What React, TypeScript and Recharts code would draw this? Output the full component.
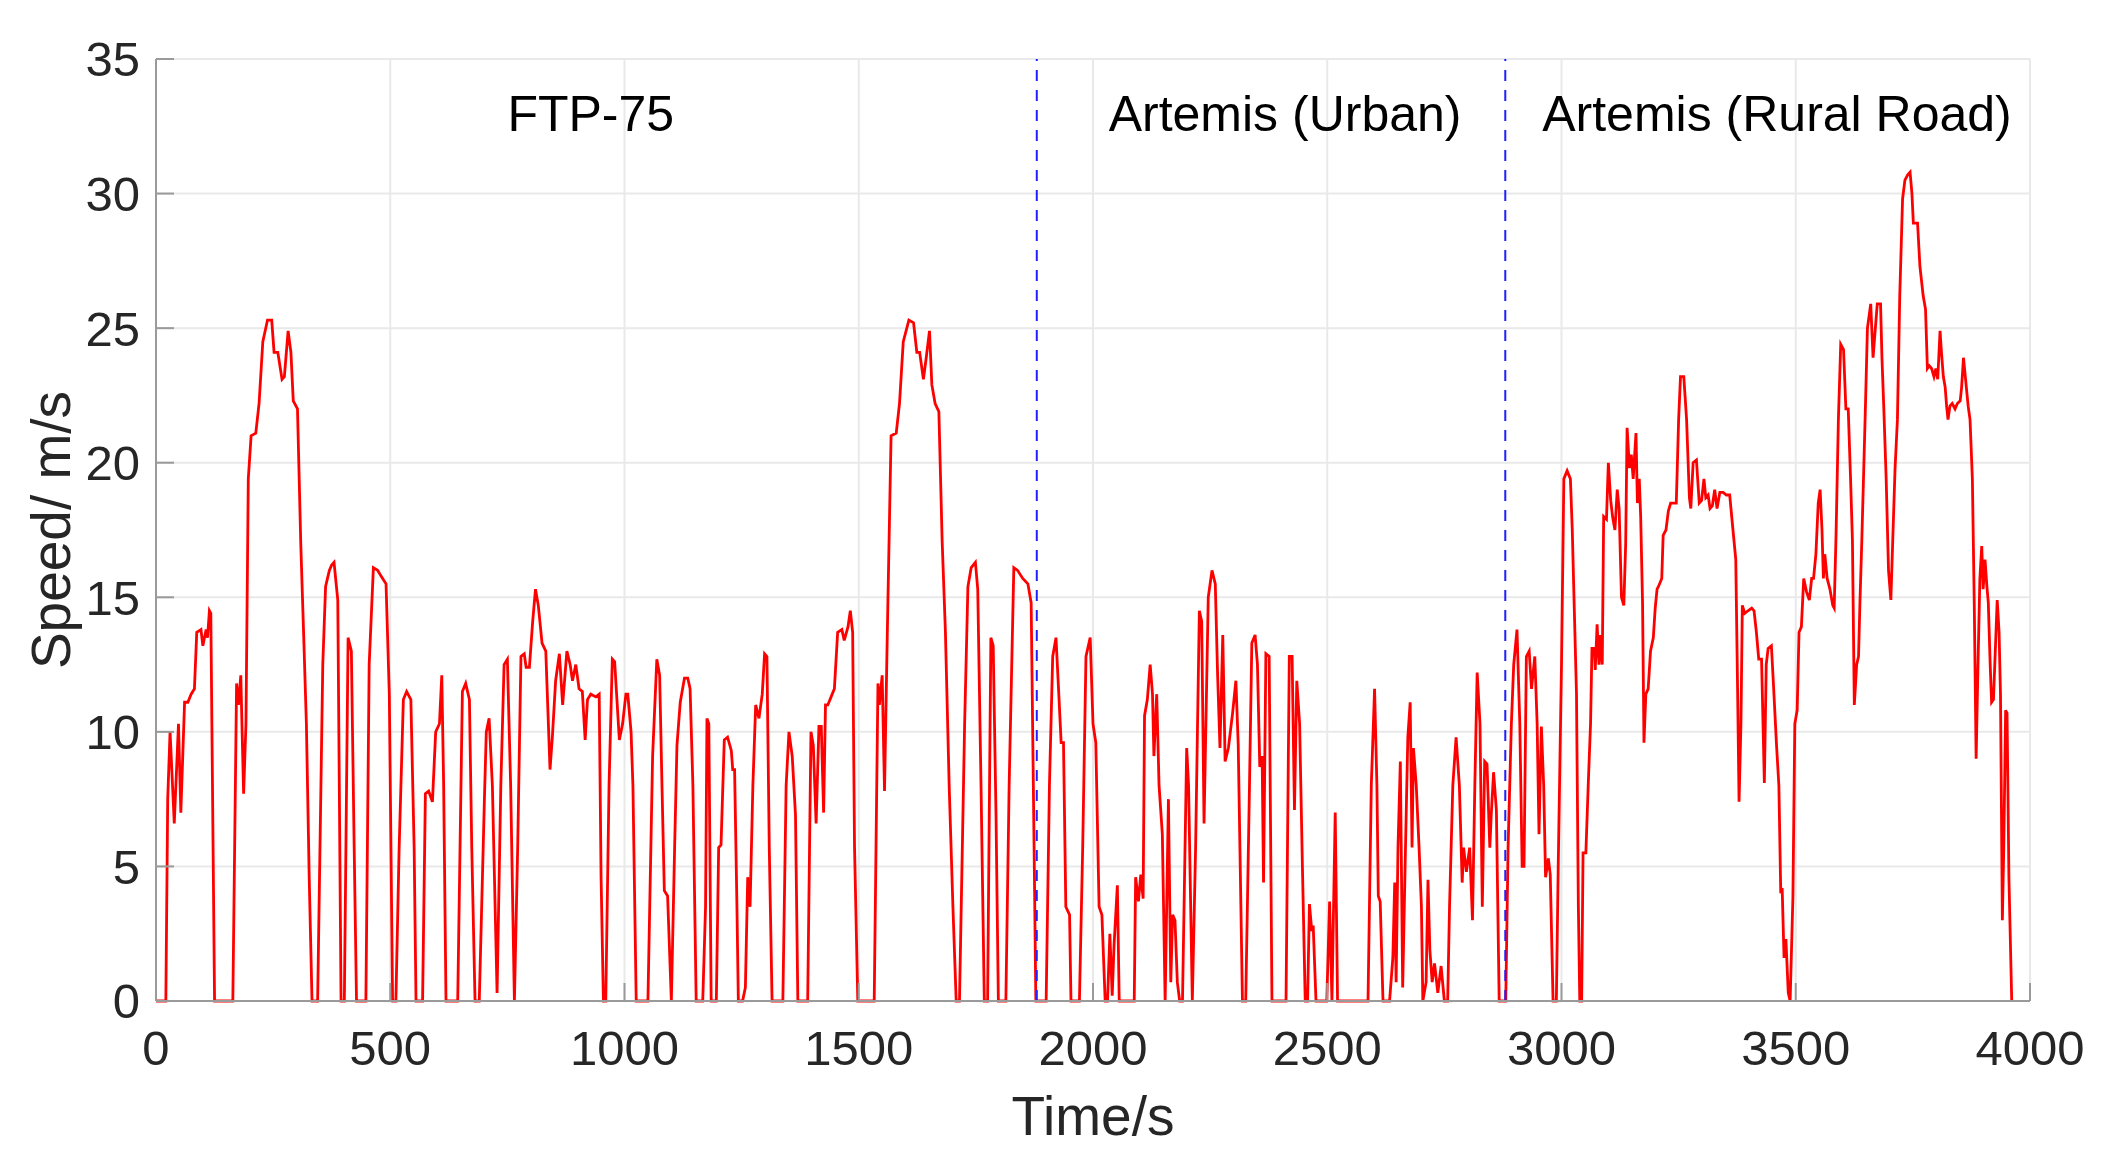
import React from 'react';
import { LineChart, Line, XAxis, YAxis, CartesianGrid, ReferenceLine, ReferenceDot, Label } from 'recharts';

// speed profile, [time s, speed m/s]
const ftp75: [number, number][] = [
  [0,0],[21,0],[25,7.5],[30,10],[39,6.6],[48,10.3],[53,7],[61,11.1],[68,11.1],[75,11.4],[82,11.6],[87,13.7],[96,13.8],[100,13.2],[107,13.8],[110,13.5],[114,14.5],[117,14.4],[125,0],[164,0],[172,11.8],[176,11],[181,12.1],[187,7.7],[192,10.3],[197,19.4],[203,21],[213,21.1],[220,22.2],[228,24.5],[238,25.3],[247,25.3],[252,24.1],[260,24.1],[269,23.1],[274,23.2],[282,24.9],[288,24.1],[293,22.3],[302,22],[309,17],[315,13.7],[321,10.3],[327,4.6],[333,0],[345,0],[356,12.5],[362,15.4],[370,16],[375,16.2],[380,16.3],[388,14.9],[395,0],[402,0],[410,13.5],[417,13],[423,5.7],[428,0],[448,0],[455,12.5],[464,16.1],[473,16],[480,15.8],[491,15.5],[498,11.4],[505,0],[512,0],[519,5.7],[528,11.2],[535,11.5],[544,11.2],[551,5.7],[555,0],[569,0],[575,7.7],[582,7.8],[590,7.4],[597,10],[605,10.3],[610,12.1],[614,8],[619,0],[644,0],[654,11.5],[661,11.8],[669,11.2],[674,5.7],[681,0],[690,0],[701,7.5],[705,10],[711,10.5],[718,8],[728,0.3],[736,8],[743,12.5],[750,12.7],[757,8],[765,0],[772,5.7],[779,12.8],[786,12.9],[790,12.4],[797,12.4],[804,14.1],[810,15.3],[816,14.7],[824,13.3],[832,13],[841,8.6],[846,9.8],[853,11.9],[861,12.9],[868,11],[877,13],[884,12.5],[889,11.9],[896,12.5],[903,11.6],[910,11.5],[916,9.7],[921,11.2],[928,11.4],[939,11.3],[946,11.4],[950,4.6],[955,0],[960,0],[967,8],[974,12.7],[979,12.6],[989,9.7],[996,10.3],[1003,11.4],[1007,11.4],[1014,10],[1018,8],[1025,0],[1050,0],[1060,9.1],[1069,12.7],[1075,12.1],[1080,8],[1085,4.1],[1092,3.9],[1100,0],[1107,5.7],[1112,9.5],[1119,11.1],[1128,12],[1135,12],[1140,11.6],[1146,8],[1153,0],[1167,0],[1173,3.5],[1176,10.5],[1180,10.3],[1185,0],[1196,0],[1201,5.7],[1206,5.8],[1213,9.7],[1220,9.8],[1228,9.3],[1231,8.6],[1235,8.6],[1240,3.5],[1243,0],[1252,0],[1258,0.5],[1263,4.6],[1268,3.5],[1274,8],[1280,11],[1287,10.5],[1294,11.4],[1299,12.9],[1304,12.8],[1309,5.7],[1315,0],[1338,0],[1345,8],[1351,10],[1358,9.1],[1365,6.9],[1370,0],[1391,0],[1398,10],[1403,9.5],[1409,6.6],[1415,10.2],[1420,10.2],[1425,7],[1429,11],[1434,11],[1441,11.3],[1448,11.6],[1455,13.7],[1464,13.8],[1469,13.4],[1477,13.9],[1482,14.5],[1487,13.7],[1491,5.7],[1498,0],[1533,0],[1541,11.8],[1544,11],[1550,12.1],[1555,7.8],[1561,13.7],[1569,21],[1580,21.1],[1587,22.2],[1595,24.5],[1607,25.3],[1617,25.2],[1624,24.1],[1630,24.1],[1638,23.1],[1644,23.9],[1651,24.9],[1656,22.9],[1663,22.2],[1671,21.9],[1678,17.1],[1685,13.7],[1693,8],[1701,3.5],[1708,0],[1715,0],[1726,10.3],[1733,15.4],[1740,16.1],[1749,16.3],[1754,15.3],[1761,8],[1768,0],[1775,0],[1782,13.5],[1787,13.2],[1793,6.9],[1798,0],[1814,0],[1821,8],[1831,16.1],[1839,16],[1850,15.7],[1861,15.5],[1868,14.8],[1875,4.6],[1878,0],
];

const artemisUrban: [number, number][] = [
  [1900,0],[1907,8],[1914,12.8],[1921,13.5],[1927,11.4],[1932,9.6],[1937,9.6],[1942,3.5],[1950,3.2],[1953,0],[1971,0],[1978,5.7],[1985,12.8],[1994,13.5],[2000,10.3],[2006,9.6],[2013,3.5],[2019,3.2],[2026,0],[2031,0],[2036,2.5],[2041,0.2],[2045,2.1],[2052,4.3],[2056,0],[2088,0],[2091,4.6],[2097,3.7],[2102,4.7],[2107,3.8],[2110,10.6],[2116,11.2],[2122,12.5],[2127,11.4],[2130,9.1],[2136,11.4],[2141,8],[2148,6.2],[2154,0],[2161,7.5],[2166,0.7],[2170,3.2],[2175,3],[2180,0.7],[2185,0],[2191,0],[2200,9.4],[2204,8],[2212,0],[2219,5.7],[2227,14.5],[2232,14.1],[2237,6.6],[2241,10.3],[2246,15],[2254,16],[2261,15.5],[2266,12.1],[2271,9.4],[2277,13.6],[2282,8.9],[2289,9.4],[2298,10.7],[2305,11.9],[2310,9.5],[2319,0],[2326,0],[2334,8],[2339,13.3],[2346,13.6],[2351,12.5],[2356,8.7],[2361,9.1],[2364,4.4],[2369,12.9],[2376,12.8],[2382,0],[2412,0],[2419,12.8],[2425,12.8],[2430,7.1],[2435,11.9],[2441,10.3],[2447,5],[2453,0],[2458,0],[2462,3.6],[2467,2.6],[2470,2.8],[2476,0],[2499,0],[2505,3.7],[2510,0],[2517,7],[2522,0],[2587,0],[2594,8],[2601,11.6],[2606,8],[2609,3.9],[2613,3.7],[2619,0],[2633,0],[2640,1.6],[2644,4.4],[2647,0.7],[2651,5.7],[2656,8.9],[2661,0.5],[2667,5.7],[2672,9.8],[2677,11.1],[2681,5.7],[2684,9.4],[2690,8],[2696,5.7],[2701,3.5],[2704,0],[2711,0.7],[2715,4.5],[2719,1.9],[2724,0.7],[2729,1.4],[2736,0.3],[2743,1.3],[2750,0],[2757,0],[2761,3.5],[2768,8],[2775,9.8],[2782,8],[2788,4.4],[2791,5.7],[2797,4.8],[2804,5.7],[2810,3],[2815,8],[2820,12.2],[2826,10.3],[2831,3.5],[2836,8.9],[2841,8.8],[2847,5.7],[2850,6.9],[2855,8.5],[2861,7.1],[2867,0],[2881,0],
];

const artemisRural: [number, number][] = [
  [2886,5.7],[2893,10.3],[2898,12.5],[2905,13.8],[2911,10.3],[2916,5],[2920,5],[2925,12.8],[2931,13],[2936,11.6],[2943,12.8],[2948,10.3],[2952,6.2],[2957,10.2],[2962,8],[2966,4.6],[2972,5.3],[2976,4.7],[2982,0],[2989,0],[2993,5],[3000,12.5],[3005,19.4],[3012,19.7],[3019,19.4],[3023,17.5],[3028,14.1],[3032,11.4],[3036,3.5],[3039,0],[3043,0],[3046,5.5],[3052,5.5],[3057,8],[3062,10.3],[3065,13.1],[3070,13.1],[3072,12.3],[3076,14],[3080,12.5],[3083,13.6],[3087,12.5],[3090,18],[3096,17.9],[3100,20],[3105,18.6],[3109,18],[3114,17.5],[3119,19],[3123,18.3],[3128,15],[3133,14.7],[3137,17],[3140,21.3],[3145,19.8],[3149,20.3],[3153,19.4],[3159,21.1],[3162,18.5],[3166,19.4],[3169,18],[3173,14.8],[3176,9.6],[3180,11.4],[3185,11.6],[3190,13],[3196,13.5],[3200,14.6],[3204,15.3],[3207,15.4],[3214,15.7],[3217,17.3],[3223,17.5],[3228,18.2],[3233,18.5],[3245,18.5],[3250,21.6],[3254,23.2],[3261,23.2],[3267,21.6],[3273,18.7],[3276,18.3],[3281,20],[3288,20.1],[3294,18.5],[3299,18.6],[3304,19.4],[3308,18.7],[3313,18.8],[3317,18.3],[3322,18.4],[3327,19],[3332,18.3],[3338,18.9],[3345,18.9],[3352,18.8],[3359,18.8],[3366,17.5],[3372,16.4],[3376,11.4],[3379,7.4],[3383,10.3],[3386,14.7],[3391,14.4],[3398,14.5],[3406,14.6],[3411,14.5],[3416,13.7],[3421,12.7],[3427,12.7],[3433,8.1],[3437,12.5],[3441,13.1],[3448,13.2],[3452,11.9],[3459,9.5],[3464,8],[3468,4],[3471,4.2],[3475,1.6],[3479,2.3],[3484,0.3],[3488,0],[3494,3.9],[3498,10.3],[3503,10.8],[3507,13.7],[3512,13.9],[3517,15.7],[3523,15.2],[3529,14.9],[3534,15.7],[3538,15.7],[3543,16.6],[3548,18.5],[3552,19],[3556,17.5],[3559,15.7],[3562,16.6],[3567,15.7],[3573,15.3],[3579,14.7],[3582,14.6],[3586,17.3],[3591,21.6],[3596,24.4],[3602,24.2],[3607,22],[3612,22],[3617,19.4],[3621,17.1],[3625,11],[3630,12.5],[3634,12.8],[3637,14.8],[3641,17.1],[3648,21.6],[3653,25],[3660,25.9],[3665,23.9],[3669,24.8],[3674,25.9],[3681,25.9],[3684,23.9],[3688,22],[3693,19.4],[3698,16],[3703,14.9],[3707,17.1],[3712,19.8],[3717,21.6],[3722,26.2],[3728,29.8],[3733,30.5],[3739,30.7],[3744,30.8],[3748,30],[3751,28.9],[3760,28.9],[3765,27.3],[3772,26.2],[3777,25.7],[3781,23.5],[3785,23.6],[3790,23.5],[3795,23.2],[3799,23.5],[3803,23.1],[3808,24.9],[3811,24.1],[3815,23.2],[3819,22.8],[3822,22.1],[3825,21.6],[3829,22.1],[3834,22.2],[3840,22],[3845,22.2],[3851,22.3],[3854,22.8],[3858,23.9],[3863,23],[3868,22.1],[3872,21.6],[3877,19.4],[3881,14.8],[3885,9],[3889,12.5],[3893,15.7],[3897,16.9],[3900,15.3],[3904,16.4],[3908,15.4],[3911,14.8],[3915,12.5],[3918,11.1],[3922,11.2],[3930,14.9],[3934,13.7],[3937,11.4],[3941,3],[3944,5.7],[3948,10.8],[3951,10.7],[3955,4.6],[3961,0],
];

const xTicks = [0, 500, 1000, 1500, 2000, 2500, 3000, 3500, 4000];
const yTicks = [0, 5, 10, 15, 20, 25, 30, 35];
const cycleBounds = [1880, 2880];
const cycleNames = ['FTP-75', 'Artemis (Urban)', 'Artemis (Rural Road)'];
const cycleLabelX = [928, 2410, 3460];

const data = [...ftp75, ...artemisUrban, ...artemisRural].map(([t, v]) => ({ t, v }));

const FONT = '"Liberation Sans", Arial, Helvetica, sans-serif';
const AXIS = '#9a9a9a';
const tickStyle = { fontSize: 49, fill: '#262626', fontFamily: FONT };

const XTitle = (props: any) => {
  const { x, y, width } = props.viewBox;
  return (
    <text x={x + width / 2} y={y + 134} textAnchor="middle" fontSize={55} fill="#262626" fontFamily={FONT}>
      Time/s
    </text>
  );
};

const YTitle = (props: any) => {
  const { x, y, height } = props.viewBox;
  const cx = x + 62;
  const cy = y + height / 2;
  return (
    <text x={cx} y={cy} transform={`rotate(-90, ${cx}, ${cy})`} textAnchor="middle" fontSize={55} fill="#262626" fontFamily={FONT}>
      Speed/ m/s
    </text>
  );
};

export default function App() {
  return (
    <div style={{ width: 2098, height: 1157, background: '#fff' }}>
      <LineChart width={2098} height={1157} data={data} margin={{ top: 51, right: 76, left: 0, bottom: 0 }}>
        <CartesianGrid stroke="#e9e9e9" strokeWidth={2} />
        <XAxis
          dataKey="t"
          type="number"
          domain={[0, 4000]}
          ticks={xTicks}
          interval={0}
          height={164}
          stroke={AXIS}
          strokeWidth={2}
          tickSize={-18}
          tickMargin={47}
          tick={tickStyle}
        >
          <Label content={XTitle} />
        </XAxis>
        <XAxis xAxisId="top" orientation="top" dataKey="t" type="number" domain={[0, 4000]} ticks={xTicks} interval={0} height={0} stroke={AXIS} strokeWidth={2} tickSize={-18} tick={false} />
        <YAxis
          type="number"
          domain={[0, 35]}
          ticks={yTicks}
          interval={0}
          width={148}
          stroke={AXIS}
          strokeWidth={2}
          tickSize={-18}
          tickMargin={34}
          tick={tickStyle}
        >
          <Label content={YTitle} />
        </YAxis>
        <YAxis yAxisId="right" orientation="right" type="number" domain={[0, 35]} ticks={yTicks} interval={0} width={0} stroke={AXIS} strokeWidth={2} tickSize={-18} tick={false} />
        <Line type="linear" dataKey="v" stroke="#ff0000" strokeWidth={2.8} dot={false} activeDot={false} isAnimationActive={false} />
        {cycleBounds.map((b) => (
          <ReferenceLine key={b} x={b} stroke="#1f1fff" strokeWidth={2} strokeDasharray="11 9" />
        ))}
        {cycleNames.map((name, i) => (
          <ReferenceDot
            key={name}
            x={cycleLabelX[i]}
            y={33}
            r={1}
            fill="none"
            stroke="none"
            label={{ value: name, position: 'center', fontSize: 50, fill: '#000', fontFamily: FONT }}
          />
        ))}
      </LineChart>
    </div>
  );
}
